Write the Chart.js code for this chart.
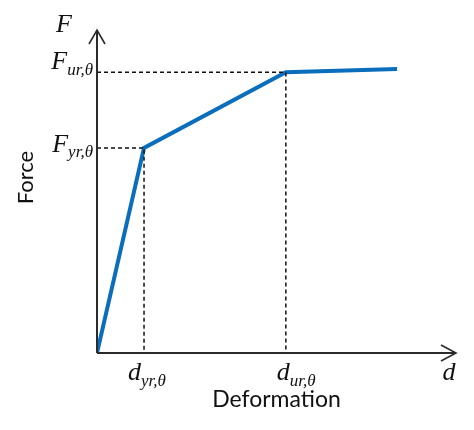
<!DOCTYPE html>
<html>
<head>
<meta charset="utf-8">
<script src="https://cdn.jsdelivr.net/npm/chart.js@4/dist/chart.umd.min.js"></script>
<style>
html,body{margin:0;padding:0;background:#fff;}
#wrap{width:474px;height:430px;position:relative;}
</style>
</head>
<body>
<div id="wrap"><canvas id="c" width="474" height="430"></canvas></div>
<script>
// Normalised deformation / force values (axis runs 0..100 in both directions)
const deformation = [0, 13.1, 52.6, 83.6];
const force = [0, 63.5, 86.9, 87.9];
const axisMax = 100;
const yieldIdx = 1, ultIdx = 2;
const yLabels = ['F', 'F'];
const ySubs = ['yr,\u03B8', 'ur,\u03B8'];
const xSubs = ['yr,\u03B8', 'ur,\u03B8'];
const xAxisTitle = 'Deformation';
const yAxisTitle = 'Force';

const curve = deformation.map((d, i) => ({x: d, y: force[i]}));
const dashStyle = {borderColor: '#111', borderWidth: 1.5, borderDash: [4, 3], pointRadius: 0, fill: false, tension: 0, showLine: true};
const guides = [yieldIdx, ultIdx].map(i => Object.assign({
  data: [{x: 0, y: force[i]}, {x: deformation[i], y: force[i]}, {x: deformation[i], y: 0}]
}, dashStyle));

const overlay = {
  id: 'overlay',
  afterDatasetsDraw(chart) {
    const ctx = chart.ctx, xs = chart.scales.x, ys = chart.scales.y;
    const x0 = xs.getPixelForValue(0), y0 = ys.getPixelForValue(0);
    const xEnd = xs.getPixelForValue(axisMax), yEnd = ys.getPixelForValue(axisMax);
    ctx.save();
    ctx.strokeStyle = '#2b2b2b';
    ctx.lineWidth = 2;
    ctx.beginPath();
    ctx.moveTo(x0, y0); ctx.lineTo(x0, yEnd);
    ctx.moveTo(x0, y0); ctx.lineTo(xEnd, y0);
    ctx.stroke();
    ctx.lineWidth = 1.6;
    ctx.beginPath();
    ctx.moveTo(x0 - 8, yEnd + 14); ctx.lineTo(x0, yEnd); ctx.lineTo(x0 + 8, yEnd + 14);
    ctx.moveTo(xEnd - 15, y0 - 8); ctx.lineTo(xEnd, y0); ctx.lineTo(xEnd - 15, y0 + 8);
    ctx.stroke();
    ctx.restore();
  },
  afterDraw(chart) {
    const ctx = chart.ctx, xs = chart.scales.x, ys = chart.scales.y;
    const x0 = xs.getPixelForValue(0), y0 = ys.getPixelForValue(0);
    const xEnd = xs.getPixelForValue(axisMax), yEnd = ys.getPixelForValue(axisMax);
    const big = 'italic 26px "Liberation Serif", "DejaVu Serif", serif';
    const small = 'italic 17px "Liberation Serif", "DejaVu Serif", serif';
    ctx.save();
    ctx.fillStyle = '#111';
    ctx.textBaseline = 'alphabetic';
    ctx.font = big; ctx.textAlign = 'center';
    ctx.fillText('F', x0 - 33, yEnd + 2);
    ctx.fillText('d', xEnd - 7, y0 + 27);
    const idxs = [yieldIdx, ultIdx];
    idxs.forEach((i, k) => {
      const yp = ys.getPixelForValue(force[i]);
      ctx.font = small;
      const ws = ctx.measureText(ySubs[k]).width;
      ctx.font = big;
      const wb = ctx.measureText(yLabels[k]).width;
      const right = x0 - 4;
      ctx.textAlign = 'left';
      ctx.font = big;
      ctx.fillText(yLabels[k], right - ws - wb, yp + (k === 0 ? 4 : -3));
      ctx.font = small;
      ctx.fillText(ySubs[k], right - ws, yp + (k === 0 ? 9 : 3));
    });
    idxs.forEach((i, k) => {
      const xp = xs.getPixelForValue(deformation[i]);
      ctx.font = big;
      const wb = ctx.measureText('d').width;
      const left = xp - (k === 0 ? 16 : 9);
      ctx.textAlign = 'left';
      ctx.fillText('d', left, y0 + 27);
      ctx.font = small;
      ctx.fillText(xSubs[k], left + wb, y0 + 33);
    });
    ctx.font = '23px Lato, "Open Sans", sans-serif';
    ctx.textAlign = 'center';
    ctx.fillText(xAxisTitle, (x0 + xEnd) / 2 + 0, y0 + 54);
    ctx.save();
    ctx.translate(33, (yEnd + y0) / 2 - 14);
    ctx.rotate(-Math.PI / 2);
    ctx.font = '22px Lato, "Open Sans", sans-serif';
    ctx.fillText(yAxisTitle, 0, 0);
    ctx.restore();
    ctx.restore();
  }
};

new Chart(document.getElementById('c'), {
  type: 'scatter',
  data: {
    datasets: [
      ...guides,
      {data: curve, showLine: true, borderColor: '#0a6ebd', borderWidth: 4, pointRadius: 0, tension: 0, fill: false, borderJoinStyle: 'miter'}
    ]
  },
  options: {
    responsive: false,
    animation: false,
    devicePixelRatio: 1,
    layout: {padding: {left: 97, right: 18, top: 30, bottom: 77}},
    plugins: {legend: {display: false}, tooltip: {enabled: false}},
    scales: {
      x: {type: 'linear', min: 0, max: axisMax, display: false},
      y: {type: 'linear', min: 0, max: axisMax, display: false}
    }
  },
  plugins: [overlay]
});
</script>
</body>
</html>
